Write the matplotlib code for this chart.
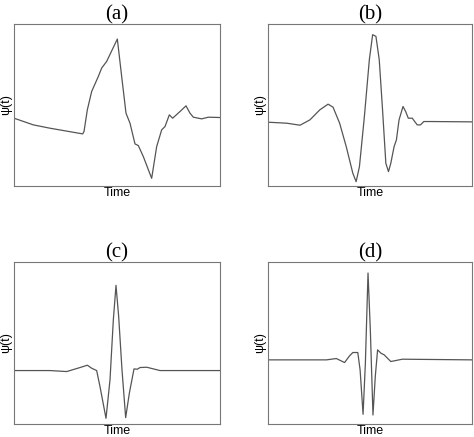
import matplotlib.pyplot as plt

# digitised wavelet shapes (arbitrary units, axes span 0..618 x 0..485)
t_a = [0, 58, 108, 206, 210, 220, 233, 253, 263, 278, 310, 323, 336, 348, 363, 373, 388, 413, 428, 443, 453, 466, 476, 498, 516, 528, 538, 563, 583, 618]
psi_a = [203, 183, 173, 156, 163, 228, 283, 328, 353, 373, 440, 328, 218, 188, 126, 121, 88, 23, 118, 168, 178, 213, 203, 223, 240, 218, 206, 201, 206, 205]

t_b = [0, 57, 97, 127, 157, 182, 197, 217, 237, 257, 267, 277, 292, 307, 317, 327, 337, 347, 357, 365, 372, 382, 389, 397, 409, 417, 425, 437, 452, 462, 472, 497, 618]
psi_b = [191, 188, 182, 198, 228, 245, 236, 188, 118, 38, 13, 58, 208, 378, 453, 448, 378, 228, 68, 43, 68, 118, 138, 198, 238, 223, 203, 203, 183, 183, 193, 193, 192]

t_c = [0, 108, 158, 198, 220, 233, 248, 258, 276, 288, 298, 306, 314, 324, 335, 346, 360, 370, 378, 398, 438, 618]
psi_c = [160, 160, 157, 169, 176, 167, 160, 112, 17, 132, 312, 415, 322, 162, 19, 92, 165, 164, 169, 170, 160, 160]

t_d = [0, 177, 207, 232, 247, 257, 272, 279, 288, 295, 303, 310, 318, 325, 332, 342, 352, 362, 372, 387, 407, 618]
psi_d = [192, 192, 196, 184, 204, 214, 214, 162, 29, 182, 452, 282, 27, 142, 222, 212, 207, 197, 187, 190, 194, 192]

panels = [("(a)", t_a, psi_a), ("(b)", t_b, psi_b), ("(c)", t_c, psi_c), ("(d)", t_d, psi_d)]

W, H = 474, 437
boxes = [(14, 24, 220, 186), (268, 24, 472, 186), (14, 262, 220, 424), (268, 262, 472, 424)]

fig = plt.figure(figsize=(W / 100, H / 100), dpi=100)
for (title, t, psi), (x0, y0, x1, y1) in zip(panels, boxes):
    ax = fig.add_axes([x0 / W, 1 - y1 / H, (x1 - x0) / W, (y1 - y0) / H])
    ax.plot(t, psi, color="#555555", lw=0.9)
    ax.set_xlim(0, 618)
    ax.set_ylim(0, 485)
    ax.set_xticks([])
    ax.set_yticks([])
    for s in ax.spines.values():
        s.set_color("#777777")
        s.set_linewidth(0.8)
    ax.set_title(title, family="Liberation Serif", fontsize=15, pad=3)
    ax.set_xlabel("Time", family="Liberation Sans", fontsize=9, labelpad=1)
    ax.set_ylabel("ψ(t)", family="Liberation Sans", fontsize=9, labelpad=1)

fig.savefig("out.png", dpi=100)
